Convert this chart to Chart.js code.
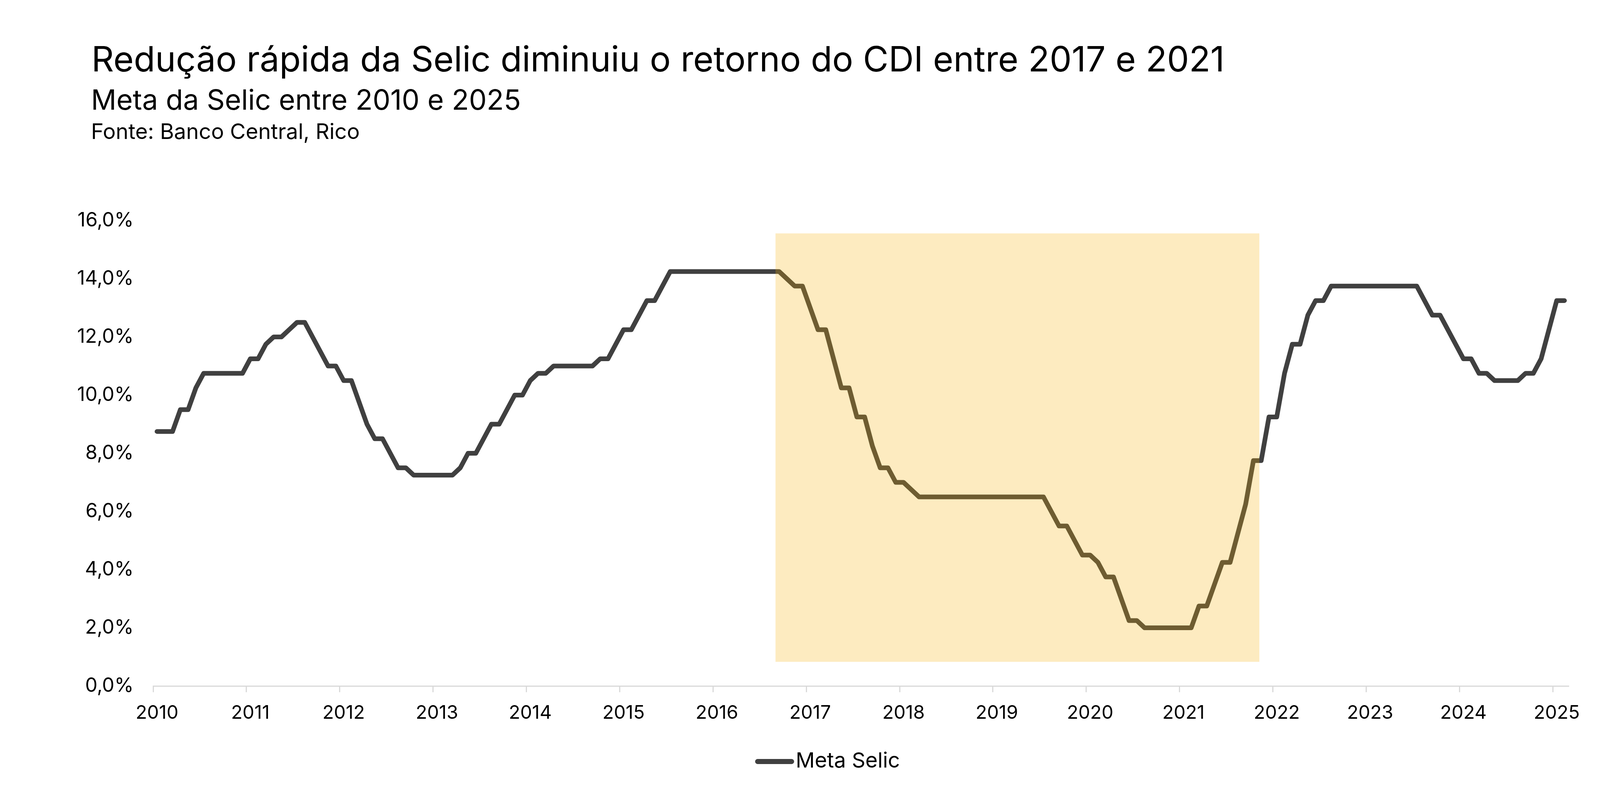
<!DOCTYPE html>
<html lang="pt-BR">
<head>
<meta charset="utf-8">
<title>Meta Selic</title>
<script src="https://cdn.jsdelivr.net/npm/chart.js@4.4.1/dist/chart.umd.min.js"></script>
<style>
  html, body { margin: 0; padding: 0; background: #ffffff; }
  body { width: 4400px; height: 2067px; position: relative; overflow: hidden; font-family: Inter, "Noto Sans", sans-serif; color: #000; }
  #chart { position: absolute; left: 0; top: 0; }
  .txt { position: absolute; white-space: nowrap; line-height: 1; font-weight: 400; }
  #title { left: 234px; top: 106px; font-size: 89.5px; }
  #subtitle { left: 233px; top: 219px; font-size: 72px; }
  #source { left: 233px; top: 309px; font-size: 55px; }
  #legend { position: absolute; left: 1933px; top: 1920px; height: 60px; }
  #legend .swatch { position: absolute; left: 0; top: 24px; width: 100px; height: 13px; border-radius: 7px; background: #404040; }
  #legend .label { position: absolute; left: 104px; top: 0; font-size: 54px; line-height: 1; white-space: nowrap; }
</style>
</head>
<body>
<div id="title" class="txt">Redução rápida da Selic diminuiu o retorno do CDI entre 2017 e 2021</div>
<div id="subtitle" class="txt">Meta da Selic entre 2010 e 2025</div>
<div id="source" class="txt">Fonte: Banco Central, Rico</div>
<canvas id="chart" width="4400" height="2067"></canvas>
<div id="legend"><div class="swatch"></div><div class="label">Meta Selic</div></div>
<script>
// ---- data ----
const seriesName = 'Meta Selic';
const firstYear = 2010;
const yearTicks = [2010, 2011, 2012, 2013, 2014, 2015, 2016, 2017, 2018, 2019, 2020, 2021, 2022, 2023, 2024, 2025];
const yTicks = [0, 2, 4, 6, 8, 10, 12, 14, 16];
// monthly Selic target (% a.a.), Jan/2010 .. Feb/2025
const selic2010 = [8.75, 8.75, 8.75, 9.50, 9.50, 10.25, 10.75, 10.75, 10.75, 10.75, 10.75, 10.75];
const selic2011 = [11.25, 11.25, 11.75, 12.00, 12.00, 12.25, 12.50, 12.50, 12.00, 11.50, 11.00, 11.00];
const selic2012 = [10.50, 10.50, 9.75, 9.00, 8.50, 8.50, 8.00, 7.50, 7.50, 7.25, 7.25, 7.25];
const selic2013 = [7.25, 7.25, 7.25, 7.50, 8.00, 8.00, 8.50, 9.00, 9.00, 9.50, 10.00, 10.00];
const selic2014 = [10.50, 10.75, 10.75, 11.00, 11.00, 11.00, 11.00, 11.00, 11.00, 11.25, 11.25, 11.75];
const selic2015 = [12.25, 12.25, 12.75, 13.25, 13.25, 13.75, 14.25, 14.25, 14.25, 14.25, 14.25, 14.25];
const selic2016 = [14.25, 14.25, 14.25, 14.25, 14.25, 14.25, 14.25, 14.25, 14.25, 14.00, 13.75, 13.75];
const selic2017 = [13.00, 12.25, 12.25, 11.25, 10.25, 10.25, 9.25, 9.25, 8.25, 7.50, 7.50, 7.00];
const selic2018 = [7.00, 6.75, 6.50, 6.50, 6.50, 6.50, 6.50, 6.50, 6.50, 6.50, 6.50, 6.50];
const selic2019 = [6.50, 6.50, 6.50, 6.50, 6.50, 6.50, 6.50, 6.00, 5.50, 5.50, 5.00, 4.50];
const selic2020 = [4.50, 4.25, 3.75, 3.75, 3.00, 2.25, 2.25, 2.00, 2.00, 2.00, 2.00, 2.00];
const selic2021 = [2.00, 2.00, 2.75, 2.75, 3.50, 4.25, 4.25, 5.25, 6.25, 7.75, 7.75, 9.25];
const selic2022 = [9.25, 10.75, 11.75, 11.75, 12.75, 13.25, 13.25, 13.75, 13.75, 13.75, 13.75, 13.75];
const selic2023 = [13.75, 13.75, 13.75, 13.75, 13.75, 13.75, 13.75, 13.25, 12.75, 12.75, 12.25, 11.75];
const selic2024 = [11.25, 11.25, 10.75, 10.75, 10.50, 10.50, 10.50, 10.50, 10.75, 10.75, 11.25, 12.25];
const selic2025 = [13.25, 13.25];
// highlighted period (data units: years / %)
const highlightX = [2016.67, 2021.855];
const highlightY = [0.83, 15.56];

const selicMeta = [].concat(selic2010, selic2011, selic2012, selic2013, selic2014, selic2015,
  selic2016, selic2017, selic2018, selic2019, selic2020, selic2021, selic2022, selic2023,
  selic2024, selic2025);
const xMax = firstYear + selicMeta.length / 12;
const points = selicMeta.map((v, i) => ({ x: firstYear + (i + 0.5) / 12, y: v }));

const highlightPlugin = {
  id: 'highlight',
  afterDatasetsDraw(chart) {
    const { ctx, scales: { x, y } } = chart;
    const x1 = x.getPixelForValue(highlightX[0]);
    const x2 = x.getPixelForValue(highlightX[1]);
    const y1 = y.getPixelForValue(highlightY[1]);
    const y2 = y.getPixelForValue(highlightY[0]);
    ctx.save();
    ctx.fillStyle = 'rgba(247, 175, 3, 0.25)';
    ctx.fillRect(x1, y1, x2 - x1, y2 - y1);
    ctx.restore();
  }
};

new Chart(document.getElementById('chart'), {
  type: 'line',
  data: {
    datasets: [{
      label: seriesName,
      data: points,
      borderColor: '#404040',
      backgroundColor: '#404040',
      borderWidth: 12,
      pointRadius: 0,
      pointHoverRadius: 0,
      tension: 0,
      fill: false,
      borderJoinStyle: 'round',
      borderCapStyle: 'round'
    }]
  },
  options: {
    responsive: false,
    maintainAspectRatio: false,
    devicePixelRatio: 1,
    animation: false,
    layout: { padding: { left: 0, right: 385, top: 565, bottom: 0 } },
    plugins: { legend: { display: false }, tooltip: { enabled: false }, title: { display: false } },
    scales: {
      x: {
        type: 'linear',
        min: firstYear,
        max: xMax,
        afterBuildTicks: (s) => { s.ticks = yearTicks.map(v => ({ value: v })); },
        afterFit: (s) => { s.height = 310; },
        ticks: {
          autoSkip: false,
          maxRotation: 0,
          padding: 25,
          labelOffset: 10,
          color: '#000',
          font: { family: 'Inter', size: 48 },
          callback: (v) => String(v)
        },
        grid: { display: true, drawOnChartArea: false, drawTicks: true, tickLength: 16, color: '#d9d9d9', lineWidth: 3 },
        border: { display: true, color: '#d9d9d9', width: 3 }
      },
      y: {
        min: 0,
        max: 16,
        afterBuildTicks: (s) => { s.ticks = yTicks.map(v => ({ value: v })); },
        afterFit: (s) => { s.width = 392; },
        ticks: {
          padding: 50,
          color: '#000',
          font: { family: 'Inter', size: 50 },
          callback: (v) => v.toFixed(1).replace('.', ',') + '%'
        },
        grid: { display: false, drawTicks: false },
        border: { display: false }
      }
    }
  },
  plugins: [highlightPlugin]
});
</script>
</body>
</html>
